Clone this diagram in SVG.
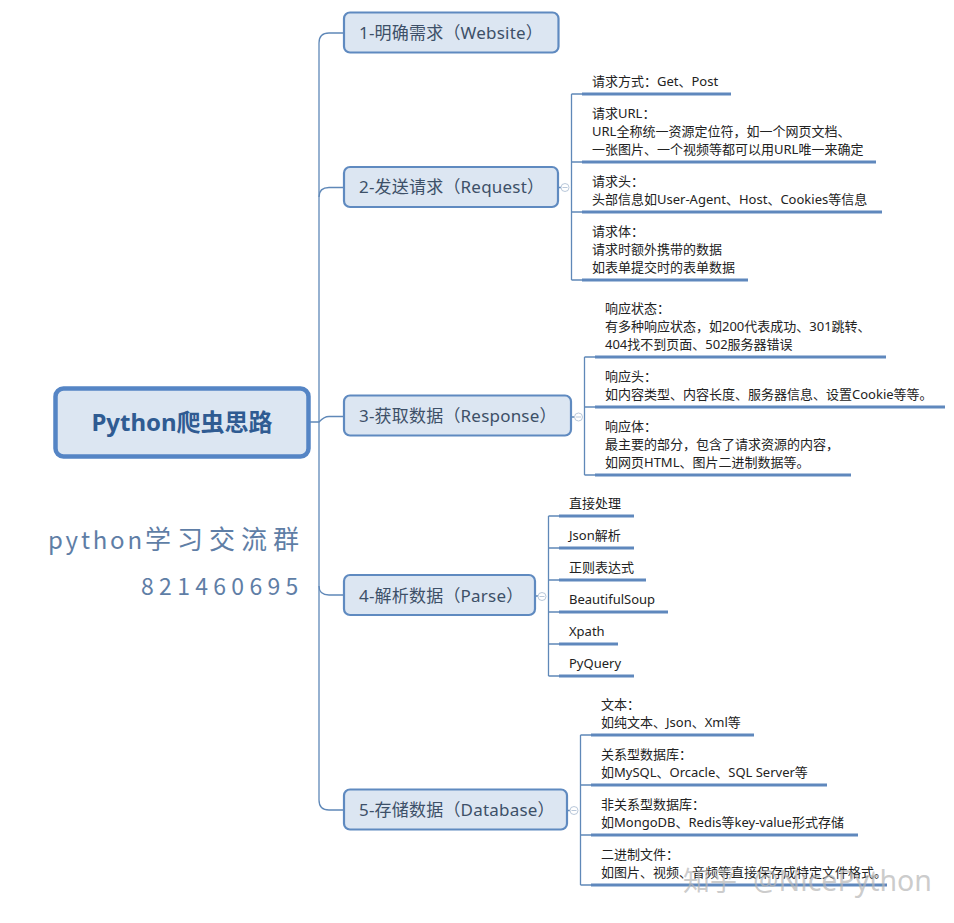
<svg xmlns="http://www.w3.org/2000/svg" width="954" height="923" viewBox="0 0 954 923">
<style>
text{font-family:"Noto Sans","Noto Sans CJK SC",sans-serif;white-space:pre}
.c{fill:none;stroke:#5f88b8;stroke-width:1.3}
.u{fill:none;stroke:#5f88bd;stroke-width:3}
.n{fill:#dce6f2;stroke:#5f8ac0;stroke-width:2.2}
.t{font-size:17px;fill:#3d5068;letter-spacing:.2px}
.s{font-size:13px;fill:#222}
.k{fill:#fff;stroke:#b9c8da;stroke-width:1}
.h{font-family:"Noto Sans CJK SC",sans-serif;font-weight:400;fill:#5f7ea6}
</style>
<rect width="954" height="923" fill="#fff"/>
<g id="connectors">
<path class="c" d="M343 33H329Q319 33 319 43V800Q319 810 329 810H343"/>
<path class="c" d="M343 187.500H329Q319 187.500 319 197"/>
<path class="c" d="M310 422H319Q324 416.500 329 416.500H343"/>
<path class="c" d="M319 586Q319 595 329 595H343"/>
<path class="c" d="M558 187.500H561M571.500 94V280M571.500 94H582M571.500 162H582M571.500 212H582M571.500 280H582"/>
<path class="c" d="M571 417H575M584.500 357V475M584.500 357H595M584.500 407H595M584.500 475H595"/>
<path class="c" d="M535 596H538M548.500 516V676M548.500 516H559M548.500 548H559M548.500 580H559M548.500 612H559M548.500 644H559M548.500 676H559"/>
<path class="c" d="M567 810.500H570M580.500 735V885M580.500 735H591M580.500 785H591M580.500 835H591M580.500 885H591"/>
<path class="u" d="M582 94H731M582 162H876M582 212H882M582 280H748"/>
<path class="u" d="M595 357H886M595 407H945M595 475H851"/>
<path class="u" d="M559 516H634M559 548H634M559 580H646M559 612H668M559 644H618M559 676H634"/>
<path class="u" d="M591 735H754M591 785H827M591 835H858M591 885H887"/>
</g>
<g id="root">
<rect x="55.500" y="388.500" width="253" height="68" rx="8" fill="#dce6f2" stroke="#5585c5" stroke-width="4.500"/>
<text x="182" y="431" text-anchor="middle" font-size="24" font-weight="700" fill="#2f5b92">Python爬虫思路</text>
</g>
<g id="node1"><rect class="n" x="344" y="12.500" width="214.500" height="40" rx="6"/><text class="t" x="359" y="39">1-明确需求（Website）</text></g>
<g id="node2"><rect class="n" x="344" y="167" width="214" height="40" rx="6"/><text class="t" x="359" y="193">2-发送请求（Request）</text><circle class="k" cx="565" cy="187.500" r="4"/><path d="M562.500 187.500H567.500" stroke="#b9c8da"/></g>
<g id="node3"><rect class="n" x="344" y="395.500" width="227" height="40" rx="6"/><text class="t" x="359" y="422">3-获取数据（Response）</text><circle class="k" cx="578.500" cy="417" r="4"/><path d="M576 417H581" stroke="#b9c8da"/></g>
<g id="node4"><rect class="n" x="344" y="575" width="191" height="40" rx="6"/><text class="t" x="359" y="602">4-解析数据（Parse）</text><circle class="k" cx="542" cy="596.500" r="4"/><path d="M539.500 596.500H544.500" stroke="#b9c8da"/></g>
<g id="node5"><rect class="n" x="344" y="789.500" width="223" height="40" rx="6"/><text class="t" x="359" y="816">5-存储数据（Database）</text><circle class="k" cx="574" cy="810.500" r="4"/><path d="M571.500 810.500H576.500" stroke="#b9c8da"/></g>
<g id="request-children">
<text class="s" x="592" y="86">请求方式：Get、Post</text>
<text class="s" x="592" y="118">请求URL：</text>
<text class="s" x="592" y="136">URL全称统一资源定位符，如一个网页文档、</text>
<text class="s" x="592" y="154">一张图片、一个视频等都可以用URL唯一来确定</text>
<text class="s" x="592" y="186">请求头：</text>
<text class="s" x="592" y="204">头部信息如User-Agent、Host、Cookies等信息</text>
<text class="s" x="592" y="236">请求体：</text>
<text class="s" x="592" y="254">请求时额外携带的数据</text>
<text class="s" x="592" y="272">如表单提交时的表单数据</text>
</g>
<g id="response-children">
<text class="s" x="605" y="313">响应状态：</text>
<text class="s" x="605" y="331">有多种响应状态，如200代表成功、301跳转、</text>
<text class="s" x="605" y="349">404找不到页面、502服务器错误</text>
<text class="s" x="605" y="381">响应头：</text>
<text class="s" x="605" y="399">如内容类型、内容长度、服务器信息、设置Cookie等等。</text>
<text class="s" x="605" y="431">响应体：</text>
<text class="s" x="605" y="449">最主要的部分，包含了请求资源的内容，</text>
<text class="s" x="605" y="467">如网页HTML、图片二进制数据等。</text>
</g>
<g id="parse-children">
<text class="s" x="569" y="508">直接处理</text>
<text class="s" x="569" y="540">Json解析</text>
<text class="s" x="569" y="572">正则表达式</text>
<text class="s" x="569" y="604">BeautifulSoup</text>
<text class="s" x="569" y="636">Xpath</text>
<text class="s" x="569" y="668">PyQuery</text>
</g>
<g id="database-children">
<text class="s" x="601" y="709">文本：</text>
<text class="s" x="601" y="727">如纯文本、Json、Xml等</text>
<text class="s" x="601" y="759">关系型数据库：</text>
<text class="s" x="601" y="777">如MySQL、Orcacle、SQL Server等</text>
<text class="s" x="601" y="809">非关系型数据库：</text>
<text class="s" x="601" y="827">如MongoDB、Redis等key-value形式存储</text>
<text class="s" x="601" y="859">二进制文件：</text>
<text class="s" x="601" y="877">如图片、视频、音频等直接保存成特定文件格式。</text>
</g>
<g id="group-note">
<text class="h" x="48" y="549" font-size="24" letter-spacing="2.800">python<tspan x="145" font-size="26" letter-spacing="6">学习交流群</tspan></text>
<text class="h" x="141" y="595" font-size="23" letter-spacing="5.300">821460695</text>
</g>
<text x="683" y="891" font-size="27" fill="#b5b5b5" fill-opacity=".7">知乎<tspan x="753" font-size="28.500">@NicePython</tspan></text>
</svg>
